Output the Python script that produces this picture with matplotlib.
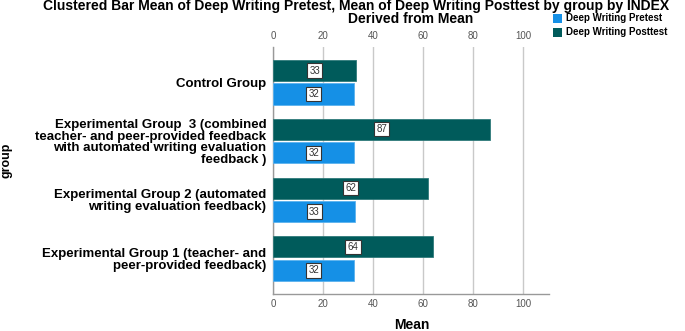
import matplotlib.pyplot as plt
import numpy as np

plt.rcParams['font.family'] = ['Liberation Sans', 'DejaVu Sans']

# ----------------------------------------------------------------------------
# Data
# ----------------------------------------------------------------------------
groups = [
    "Control Group",
    "Experimental Group  3 (combined\nteacher- and peer-provided feedback\nwith automated writing evaluation\nfeedback )",
    "Experimental Group 2 (automated\nwriting evaluation feedback)",
    "Experimental Group 1 (teacher- and\npeer-provided feedback)",
]
pretest = [32.5, 32.4, 32.8, 32.5]
posttest = [33.2, 86.8, 62.1, 63.8]
x_ticks = [0, 20, 40, 60, 80, 100]

colors = {
    'pre': '#1590E6',
    'post': '#005B5B',
    'grid': '#C9C9C9',
    'tick': '#555555',
}

fig = plt.figure(figsize=(6.85, 3.31), dpi=100)
ax = fig.add_axes([0.399, 0.112, 0.403, 0.746])

y = np.arange(len(groups))
h = 0.36
off = 0.2

bars_post = ax.barh(y - off, posttest, height=h, color=colors['post'],
                    edgecolor='#2f7a7a', linewidth=0.6, zorder=3)
bars_pre = ax.barh(y + off, pretest, height=h, color=colors['pre'],
                   edgecolor='#5bb2ee', linewidth=0.6, zorder=3)

# Value tags in white boxes, centred on each bar
for bar in list(bars_post) + list(bars_pre):
    w = bar.get_width()
    ax.text(w / 2, bar.get_y() + bar.get_height() / 2, f'{w:.0f}',
            ha='center', va='center', fontsize=7, color='#333333', zorder=5,
            bbox=dict(boxstyle='square,pad=0.22', facecolor='white',
                      edgecolor='#333333', linewidth=0.8))

ax.set_xlim(0, 110.6)
ax.set_ylim(len(groups) - 0.4, -0.6)
ax.set_xticks(x_ticks)
ax.set_yticks(y)
ax.set_yticklabels(groups, fontsize=9.5, fontweight='bold', linespacing=0.95)
ax.tick_params(axis='y', length=0, pad=5)
ax.tick_params(axis='x', length=0, labelsize=7, labelcolor=colors['tick'],
               top=True, labeltop=True, pad=4)
ax.grid(True, axis='x', color=colors['grid'], linewidth=1, zorder=0)

for side in ['top', 'right']:
    ax.spines[side].set_visible(False)
for side in ['left', 'bottom']:
    ax.spines[side].set_color('#999999')
    ax.spines[side].set_linewidth(1)

ax.set_xlabel('Mean', fontsize=10, fontweight='bold', labelpad=6)
fig.text(0.010, 0.515, 'group', rotation=90, ha='center', va='center',
         fontsize=9, fontweight='bold')

# Title
fig.text(0.52, 0.983, 'Clustered Bar Mean of Deep Writing Pretest, Mean of Deep Writing '
         'Posttest by group by INDEX', ha='center', va='center',
         fontsize=10, fontweight='bold')
fig.text(0.600, 0.942, 'Derived from Mean', ha='center', va='center',
         fontsize=10, fontweight='bold')

# Legend (manual, top right)
legend_items = [("Deep Writing Pretest", colors['pre']),
                ("Deep Writing Posttest", colors['post'])]
for i, (label, c) in enumerate(legend_items):
    ypix = 18 + i * 14
    fig.patches.append(plt.Rectangle((553 / 685, 1 - (ypix + 5) / 331), 9 / 685, 9 / 331,
                                     transform=fig.transFigure, facecolor=c,
                                     edgecolor='none'))
    fig.text(566 / 685, 1 - ypix / 331, label, ha='left', va='center',
             fontsize=7, fontweight='bold')

fig.savefig('out.png', dpi=100)
